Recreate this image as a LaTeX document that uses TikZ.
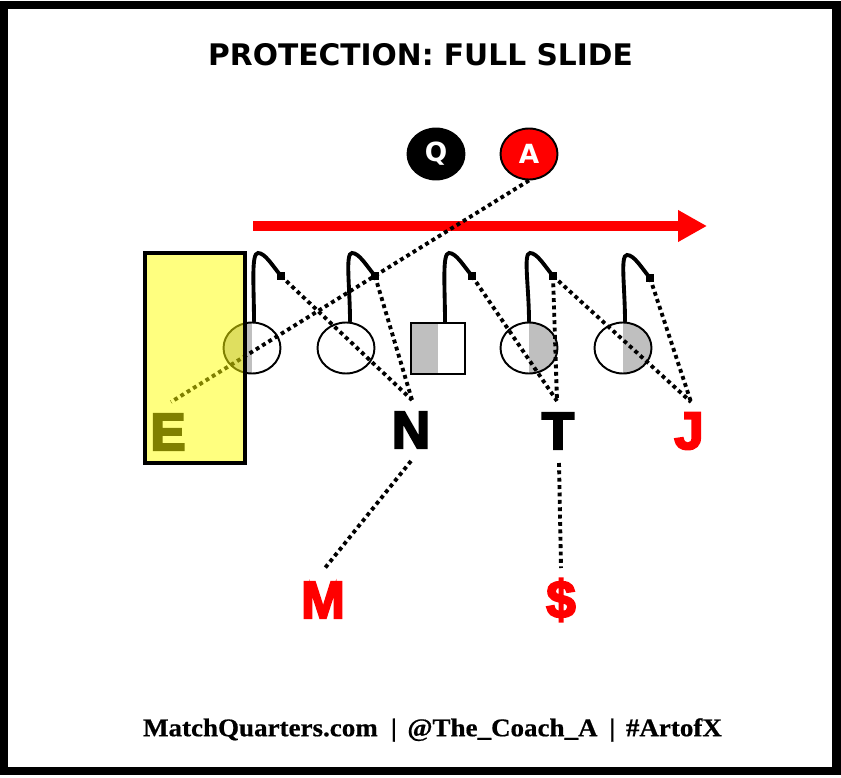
\documentclass[tikz,border=0pt]{standalone}
\usepackage{fontspec}
\usetikzlibrary{arrows.meta, calc, shapes.geometric}
\newfontfamily\titlefont{DejaVu Sans Bold}
\newfontfamily\labelfont[FakeBold=4]{Liberation Sans Bold}
\newfontfamily\footfont[FakeStretch=1.06,FakeBold=.6]{Liberation Serif Bold}
\definecolor{olgray}{HTML}{BFBFBF}
\definecolor{boxyellow}{RGB}{255,255,0}
\tikzset{
  lineman/.style={draw,ellipse,line width=1.1pt,inner sep=0pt,minimum width=1.14cm,minimum height=1.02cm},
  snapper/.style={draw,rectangle,line width=1.1pt,inner sep=0pt,minimum width=1.08cm,minimum height=1.02cm},
  grayleft/.style={path picture={\fill[olgray] (path picture bounding box.south west) rectangle (path picture bounding box.north);}},
  grayright/.style={path picture={\fill[olgray] (path picture bounding box.south east) rectangle (path picture bounding box.north);}},
  back/.style={draw,ellipse,line width=1.1pt,inner sep=0pt,minimum width=1.14cm,minimum height=1.02cm,text=white,font=\titlefont\fontsize{15}{15}\selectfont},
  defender/.style={inner sep=0pt,font=\labelfont\fontsize{30}{30}\selectfont},
  hooktip/.style={fill=black,inner sep=0pt,minimum size=4.2pt},
  hook/.style={line width=2.2pt,line cap=round},
  assign/.style={line width=2.2pt,dash pattern=on 2.2pt off 2pt}
}
\begin{document}
\begin{tikzpicture}[x=.02cm,y=-.02cm]
\useasboundingbox (0,0) rectangle (841,777);
% Outer frame and the two lines of text
\draw[line width=4.6pt] (4,5) rectangle (836.5,771);
\node[font=\titlefont\fontsize{16.9}{16.9}\selectfont] (title) at (420.5,55) {PROTECTION: FULL SLIDE};
\node[font=\footfont\fontsize{14.5}{14.5}\selectfont] (footer) at (432.5,730) {MatchQuarters.com\hspace{.25em} | \hspace{.15em}@The\_Coach\_A\hspace{.2em} | \hspace{.15em}\#ArtofX};
% Backs
\node[back,fill=black] (Q) at (436,154) {Q};
\node[back,fill=red] (A) at (529,154) {A};
% Slide arrow
\coordinate (slidestart) at (253,226);
\coordinate (slideend) at (707,226);
\draw[red,line width=5.7pt,-{Triangle[length=16.5pt,width=17pt]}] (slidestart) -- (slideend);
% Offensive line
\node[lineman,grayleft] (ol1) at (252,348) {};
\node[lineman] (ol2) at (346,348) {};
\node[snapper,grayleft] (ol3) at (438,348.5) {};
\node[lineman,grayright] (ol4) at (529,348) {};
\node[lineman,grayright] (ol5) at (623,348) {};
% Ends of the hooks
\node[hooktip] (h1) at (281,276) {};
\node[hooktip] (h2) at (375,276) {};
\node[hooktip] (h3) at (472,276) {};
\node[hooktip] (h4) at (553,276) {};
\node[hooktip] (h5) at (650,278) {};
% Hooks from each lineman
\foreach \i/\sx in {1/2,2/4,3/7,4/0,5/2} {
  \draw[hook] ($(ol\i.north)+(\sx,0)$) .. controls +(0,-35) and +(-7,0) ..
    ($(h\i)+(-23,-23)$) .. controls +(7,0) and +(-9,-11) .. (h\i.center);
}
% Defenders
\node[defender,text=black] (E) at (168,432) {E};
\node[defender] (N) at (411,430) {N};
\node[defender] (T) at (558,431) {T};
\node[defender,text=red] (J) at (689,431) {J};
\node[defender,text=red] (M) at (323,600) {M};
\node[defender,text=red] (S) at (561,600) {\$};
% Free ends of the dotted lines
\coordinate (Etop) at (171,402);
\coordinate (Ntop) at (412,400);
\coordinate (Ttop) at (557,401);
\coordinate (Jtop) at (691,402);
\coordinate (Nbot) at (411,461);
\coordinate (Tbot) at (559,463);
\coordinate (Mtop) at (325,568);
\coordinate (Stop) at (561,568);
% Dotted lines
\draw[assign] (A.south) -- (Etop);
\draw[assign] (h1.center) -- (Ntop);
\draw[assign] (h2.center) -- (Ntop);
\draw[assign] (h3.center) -- (Ttop);
\draw[assign] (h4.center) -- (Ttop);
\draw[assign] (h4.center) -- (Jtop);
\draw[assign] (h5.center) -- (Jtop);
\draw[assign] (Nbot) -- (Mtop);
\draw[assign] (Tbot) -- (Stop);
% Yellow box over the end man
\node[draw=black,line width=2pt,fill=boxyellow,fill opacity=.5,inner sep=0pt,minimum width=2cm,minimum height=4.2cm] (box) at (195,358) {};
\end{tikzpicture}
\end{document}
